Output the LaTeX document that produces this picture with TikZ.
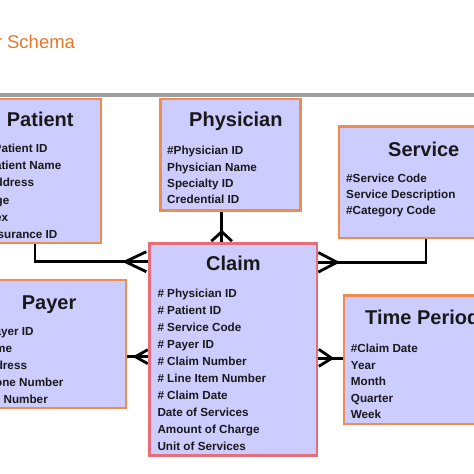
\documentclass[tikz,border=0pt]{standalone}
\usepackage{fontspec}
\setmainfont{Liberation Sans}
\usetikzlibrary{calc}
\definecolor{boxfill}{RGB}{204,204,255}
\definecolor{boxline}{RGB}{240,140,80}
\definecolor{claimline}{RGB}{230,110,120}
\definecolor{titlecol}{RGB}{232,120,40}
\definecolor{rulegray}{RGB}{160,160,160}
\begin{document}
\begin{tikzpicture}[x=1pt,y=-1pt,
  entity/.style={draw=boxline, fill=boxfill, line width=1.5pt, inner sep=0, anchor=north west},
  ttl/.style={font=\bfseries\fontsize{20}{24}\selectfont, anchor=base west, inner sep=0, text=black!90},
  attr/.style={font=\bfseries\fontsize{11.7}{14}\selectfont, anchor=base west, inner sep=0, text=black!90},
  rel/.style={draw=black, line width=2.8pt},
  heading/.style={font=\fontsize{18.5}{22}\selectfont, anchor=base west, inner sep=0, text=titlecol}]
\useasboundingbox (0,0) rectangle (474,474);
\clip (0,0) rectangle (474,474);
\fill[white] (0,0) rectangle (474,474);

% heading and rule
\node[heading] (heading) at (-32.1,48) {Star Schema};
\coordinate (ruleL) at (0,95);
\coordinate (ruleR) at (474,95);
\draw[rulegray, line width=3.4pt] (ruleL) -- (ruleR);

% entity boxes (geometry only)
\node[entity, minimum width=140pt, minimum height=143.4pt] (patient) at (-40,98.3) {};
\node[entity, minimum width=139.3pt, minimum height=111pt] (physician) at (160,98.3) {};
\node[entity, minimum width=141.7pt, minimum height=110.7pt] (service) at (338.3,126) {};
\node[entity, minimum width=165pt, minimum height=127.4pt] (payer) at (-40,279.3) {};
\node[entity, minimum width=136.7pt, minimum height=127.7pt] (timep) at (343.3,295) {};
\node[entity, draw=claimline, line width=1.8pt, minimum width=166.4pt, minimum height=211.6pt] (claim) at (149.3,242.7) {};

% connectors
% Patient - Claim
\coordinate (pc) at (35,261.7);
\coordinate (e1) at (claim.west |- pc);
\draw[rel] (patient.south -| pc) |- (e1);
\draw[rel] ($(e1)+(-24,0)$) -- ($(e1)+(-3,-10)$) ($(e1)+(-24,0)$) -- ($(e1)+(-3,10)$);
% Physician - Claim
\coordinate (phc) at (221.7,0);
\coordinate (e2) at (claim.north -| phc);
\draw[rel] (physician.south -| phc) -- (e2);
\draw[rel] ($(e2)+(0,-11)$) -- ($(e2)+(-10.3,-1.5)$) ($(e2)+(0,-11)$) -- ($(e2)+(10.3,-1.5)$);
% Service - Claim
\coordinate (sc) at (426,262.3);
\coordinate (e3) at (claim.east |- sc);
\draw[rel] (service.south -| sc) |- (e3);
\draw[rel] ($(e3)+(19.5,0)$) -- ($(e3)+(0.8,-9.8)$) ($(e3)+(19.5,0)$) -- ($(e3)+(0.8,9.8)$);
% Payer - Claim
\coordinate (pyc) at (0,356.7);
\coordinate (e4) at (claim.west |- pyc);
\draw[rel] (payer.east |- pyc) -- (e4);
\draw[rel] ($(e4)+(-14,0)$) -- ($(e4)+(-1.5,-7)$) ($(e4)+(-14,0)$) -- ($(e4)+(-1.5,7)$);
% Time Period - Claim
\coordinate (tc) at (0,358.3);
\coordinate (e5) at (claim.east |- tc);
\draw[rel] (e5) -- (timep.west |- tc);
\draw[rel] ($(e5)+(14.3,0)$) -- ($(e5)+(1.3,-9)$) ($(e5)+(14.3,0)$) -- ($(e5)+(1.3,8)$);

% redraw box borders over connector ends
\draw[boxline, line width=1.5pt] (patient.south west) rectangle (patient.north east);
\draw[boxline, line width=1.5pt] (physician.south west) rectangle (physician.north east);
\draw[boxline, line width=1.5pt] (service.south west) rectangle (service.north east);
\draw[boxline, line width=1.5pt] (payer.south west) rectangle (payer.north east);
\draw[boxline, line width=1.5pt] (timep.south west) rectangle (timep.north east);
\draw[claimline, line width=1.8pt] (claim.south west) rectangle (claim.north east);

% titles
\node[ttl] (patient-t) at (6.7,126.8) {Patient};
\node[ttl] (physician-t) at (189,126.8) {Physician};
\node[ttl] (service-t) at (388,156.6) {Service};
\node[ttl] (payer-t) at (21.7,309) {Payer};
\node[ttl] (claim-t) at (206,270.6) {Claim};
\node[ttl] (timep-t) at (365,324) {Time Period};

% attributes
\foreach \t [count=\i] in {\#Patient ID, Patient Name, Address, Age, Sex, Insurance ID}
  \node[attr] (patient-\i) at (-13,{152.5+(\i-1)*17.2}) {\t};
\foreach \t [count=\i] in {\#Physician ID, Physician Name, Specialty ID, Credential ID}
  \node[attr] (physician-\i) at (167,{154.7+(\i-1)*16.3}) {\t};
\foreach \t [count=\i] in {\#Service Code, Service Description, \#Category Code}
  \node[attr] (service-\i) at (346,{182.5+(\i-1)*16.2}) {\t};
\foreach \t [count=\i] in {\#Payer ID, Name, Address, Phone Number, Fax Number}
  \node[attr] (payer-\i) at (-20,{335.9+(\i-1)*16.8}) {\t};
\foreach \t [count=\i] in {\# Physician ID, \# Patient ID, \# Service Code, \# Payer ID, \# Claim Number, \# Line Item Number, \# Claim Date, Date of Services, Amount of Charge, Unit of Services}
  \node[attr] (claim-\i) at (157.3,{297.5+(\i-1)*16.97}) {\t};
\foreach \t [count=\i] in {\#Claim Date, Year, Month, Quarter, Week}
  \node[attr] (timep-\i) at (350.7,{352.5+(\i-1)*16.5}) {\t};
\end{tikzpicture}
\end{document}
